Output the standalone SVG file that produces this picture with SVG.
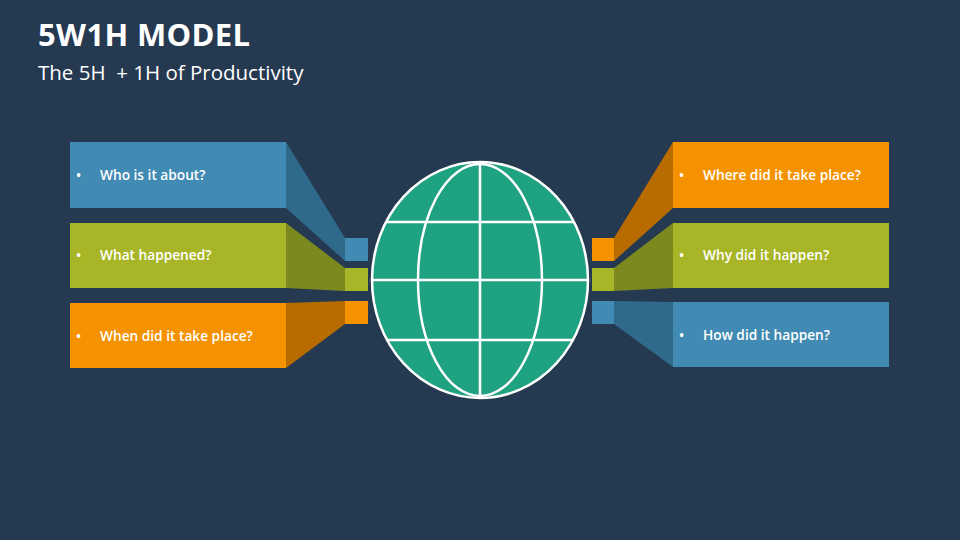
<svg xmlns="http://www.w3.org/2000/svg" width="960" height="540" viewBox="0 0 960 540">
<style>
text{font-family:"Open Sans","Liberation Sans",sans-serif;fill:#fff}
.t{font-size:13.7px;font-weight:600}
.b{fill:#418AB3}.bs{fill:#2F6A8A}.g{fill:#A7B526}.gs{fill:#7B891E}.o{fill:#F59200}.os{fill:#B86C00}
.gl{fill:none;stroke:#fff;stroke-width:2.5}
</style>
<rect width="960" height="540" fill="#253951"/>
<text x="38" y="46" font-size="31" font-weight="700" textLength="212">5W1H MODEL</text>
<text x="38" y="80" font-size="20.5" xml:space="preserve">The 5H  + 1H of Productivity</text>
<g id="connectors">
<polygon class="bs" points="286,142 345,238 345,261 286,208"/>
<polygon class="gs" points="286,223 345,268 345,291 286,288"/>
<polygon class="os" points="286,303 345,301 345,324 286,368"/>
<polygon class="os" points="673,142 614,238 614,261 673,208"/>
<polygon class="gs" points="673,223 614,268 614,291 673,288"/>
<polygon class="bs" points="673,302 614,301 614,324 673,367"/>
<rect class="b" x="345" y="238" width="23" height="23"/>
<rect class="g" x="345" y="268" width="23" height="23"/>
<rect class="o" x="345" y="301" width="23" height="23"/>
<rect class="o" x="592" y="238" width="22" height="23"/>
<rect class="g" x="592" y="268" width="22" height="23"/>
<rect class="b" x="592" y="301" width="22" height="23"/>
</g>
<g id="globe">
<ellipse cx="480" cy="280" rx="108" ry="118" fill="#1FA282" stroke="#fff" stroke-width="2.5"/>
<ellipse class="gl" cx="480" cy="280" rx="62" ry="116"/>
<line class="gl" x1="480" y1="162" x2="480" y2="398"/>
<line class="gl" x1="372" y1="280" x2="588" y2="280"/>
<line class="gl" x1="386" y1="222" x2="574" y2="222"/>
<line class="gl" x1="386" y1="340" x2="574" y2="340"/>
</g>
<g id="who"><rect class="b" x="70" y="142" width="216" height="66"/><text class="t" x="76" y="180">•</text><text class="t" x="100" y="180">Who is it about?</text></g>
<g id="what"><rect class="g" x="70" y="223" width="216" height="65"/><text class="t" x="76" y="260">•</text><text class="t" x="100" y="260">What happened?</text></g>
<g id="when"><rect class="o" x="70" y="303" width="216" height="65"/><text class="t" x="76" y="341">•</text><text class="t" x="100" y="341">When did it take place?</text></g>
<g id="where"><rect class="o" x="673" y="142" width="216" height="66"/><text class="t" x="679" y="180">•</text><text class="t" x="703" y="180">Where did it take place?</text></g>
<g id="why"><rect class="g" x="673" y="223" width="216" height="65"/><text class="t" x="679" y="260">•</text><text class="t" x="703" y="260">Why did it happen?</text></g>
<g id="how"><rect class="b" x="673" y="302" width="216" height="65"/><text class="t" x="679" y="340">•</text><text class="t" x="703" y="340">How did it happen?</text></g>
</svg>
